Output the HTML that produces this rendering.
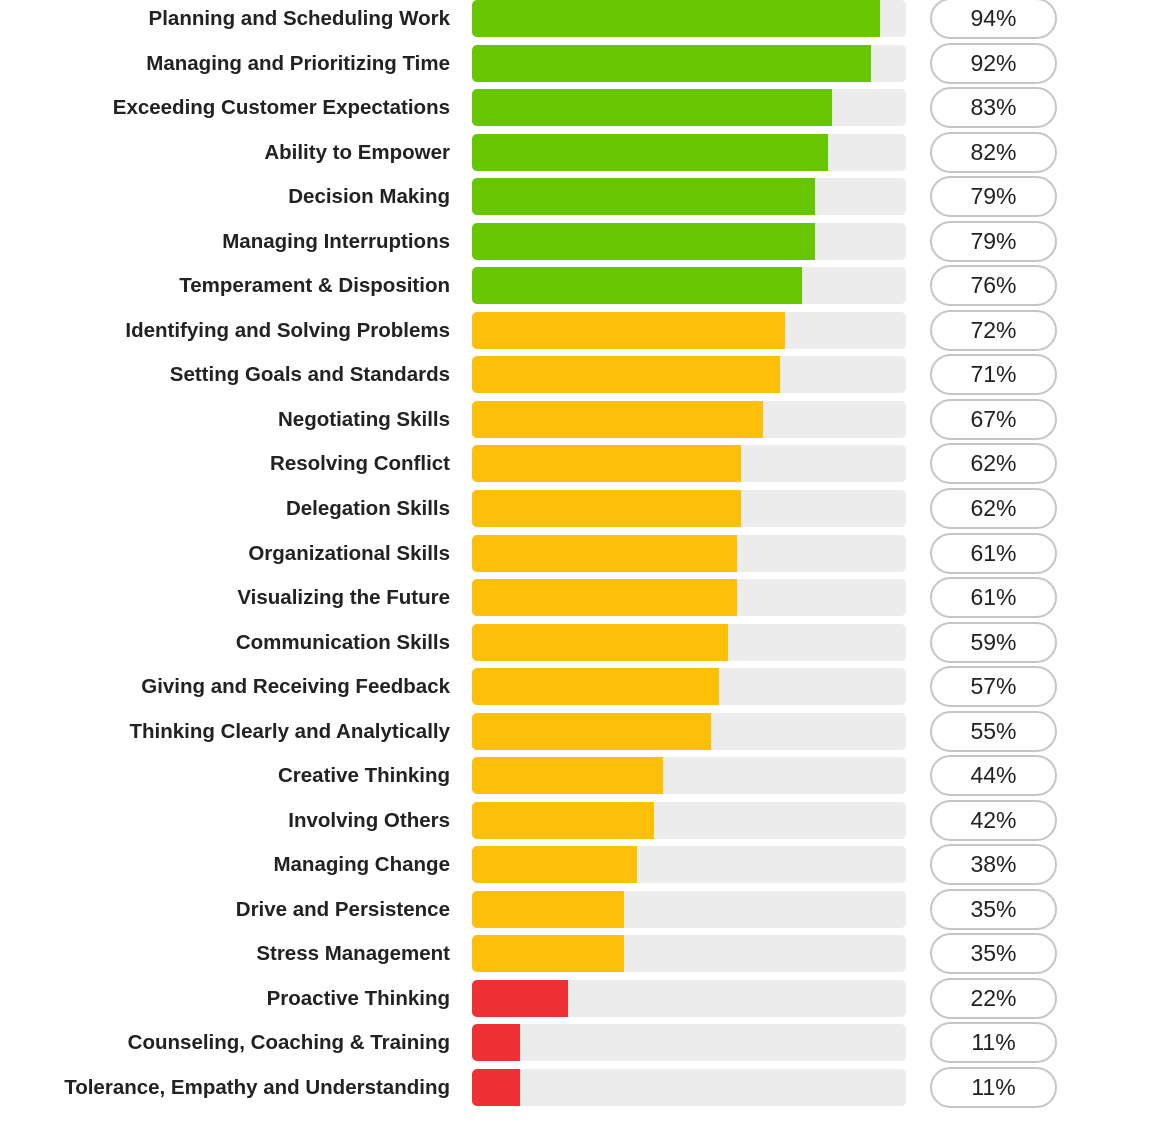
<!DOCTYPE html>
<html><head><style>
body{margin:0;width:1167px;height:1134px;background:#fff;position:relative;font-family:"Liberation Sans",sans-serif;overflow:hidden}
.r{position:absolute;left:0;width:1167px;height:37px}
.l{position:absolute;right:717px;top:0;line-height:37px;font-size:20.5px;font-weight:bold;color:#222;white-space:nowrap}
.t{position:absolute;left:472px;width:434px;top:0;height:37px;background:#ececec;border-radius:5px;overflow:hidden}
.b{position:absolute;left:0;top:0;height:37px}
.p{position:absolute;left:930px;width:123px;top:-2px;height:37px;border:2px solid #c6c6c6;border-radius:21px;text-align:center;line-height:37px;font-size:23px;color:#222}
</style></head><body>
<div id="c"></div>
<script>
var d=[["Planning and Scheduling Work",94],["Managing and Prioritizing Time",92],["Exceeding Customer Expectations",83],["Ability to Empower",82],["Decision Making",79],["Managing Interruptions",79],["Temperament & Disposition",76],["Identifying and Solving Problems",72],["Setting Goals and Standards",71],["Negotiating Skills",67],["Resolving Conflict",62],["Delegation Skills",62],["Organizational Skills",61],["Visualizing the Future",61],["Communication Skills",59],["Giving and Receiving Feedback",57],["Thinking Clearly and Analytically",55],["Creative Thinking",44],["Involving Others",42],["Managing Change",38],["Drive and Persistence",35],["Stress Management",35],["Proactive Thinking",22],["Counseling, Coaching & Training",11],["Tolerance, Empathy and Understanding",11]];
var h="";
d.forEach(function(e,i){var v=e[1];var c=v>=75?"#66c600":(v>=30?"#fdbf08":"#ef3034");
h+='<div class="r" style="top:'+(i*44.54).toFixed(1)+'px"><div class="l">'+e[0].replace("&","&amp;")+'</div><div class="t"><div class="b" style="width:'+(v*4.34).toFixed(1)+'px;background:'+c+'"></div></div><div class="p">'+v+'%</div></div>';});
document.getElementById("c").innerHTML=h;
</script>
</body></html>
